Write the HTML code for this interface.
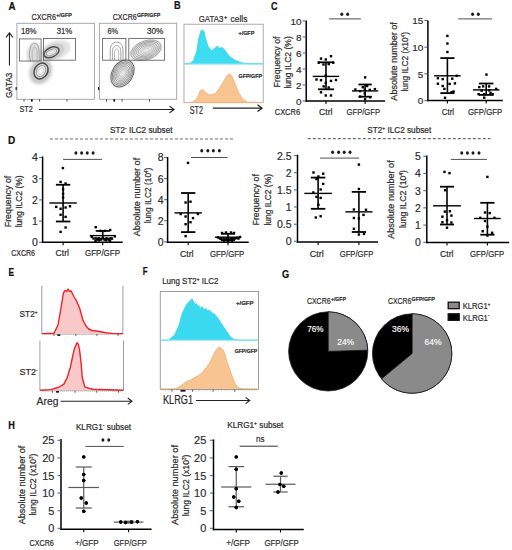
<!DOCTYPE html>
<html><head><meta charset="utf-8"><style>
html,body{margin:0;padding:0;background:#fff;}
svg{display:block;font-family:"Liberation Sans",sans-serif;}
text{stroke-width:0.22px;paint-order:stroke;}
</style></head><body>
<svg width="512" height="550" viewBox="0 0 512 550">
<rect width="512" height="550" fill="#fff"/>
<text x="8.50" y="9.70" font-size="10.70" text-anchor="start" font-weight="bold" fill="#111" stroke="#111" textLength="7.00" lengthAdjust="spacingAndGlyphs" >A</text>
<text x="173.90" y="9.40" font-size="10.70" text-anchor="start" font-weight="bold" fill="#111" stroke="#111" textLength="6.60" lengthAdjust="spacingAndGlyphs" >B</text>
<text x="271.00" y="9.60" font-size="10.70" text-anchor="start" font-weight="bold" fill="#111" stroke="#111" textLength="6.50" lengthAdjust="spacingAndGlyphs" >C</text>
<text x="8.10" y="144.10" font-size="10.70" text-anchor="start" font-weight="bold" fill="#111" stroke="#111" textLength="7.20" lengthAdjust="spacingAndGlyphs" >D</text>
<text x="8.40" y="276.40" font-size="10.70" text-anchor="start" font-weight="bold" fill="#111" stroke="#111" textLength="5.60" lengthAdjust="spacingAndGlyphs" >E</text>
<text x="142.80" y="274.80" font-size="10.17" text-anchor="start" font-weight="bold" fill="#111" stroke="#111" textLength="4.80" lengthAdjust="spacingAndGlyphs" >F</text>
<text x="282.00" y="278.00" font-size="11.24" text-anchor="start" font-weight="bold" fill="#111" stroke="#111" textLength="7.20" lengthAdjust="spacingAndGlyphs" >G</text>
<text x="8.20" y="429.00" font-size="10.70" text-anchor="start" font-weight="bold" fill="#111" stroke="#111" textLength="6.60" lengthAdjust="spacingAndGlyphs" >H</text>
<text x="31.50" y="20.20" font-size="9.42" text-anchor="start" font-weight="normal" fill="#2e2e2e" stroke="#2e2e2e" textLength="24.40" lengthAdjust="spacingAndGlyphs" >CXCR6</text>
<text x="56.20" y="16.60" font-size="5.89" text-anchor="start" font-weight="bold" fill="#2e2e2e" stroke="#2e2e2e" textLength="15.50" lengthAdjust="spacingAndGlyphs" >+/GFP</text>
<text x="112.70" y="19.90" font-size="9.42" text-anchor="start" font-weight="normal" fill="#2e2e2e" stroke="#2e2e2e" textLength="24.00" lengthAdjust="spacingAndGlyphs" >CXCR6</text>
<text x="137.00" y="16.50" font-size="5.89" text-anchor="start" font-weight="bold" fill="#2e2e2e" stroke="#2e2e2e" textLength="23.20" lengthAdjust="spacingAndGlyphs" >GFP/GFP</text>
<rect x="16.90" y="23.30" width="77.50" height="76.00" fill="none" stroke="#a0a0a0" stroke-width="0.9" />
<line x1="24.00" y1="99.30" x2="24.00" y2="101.50" stroke="#333" stroke-width="0.9" />
<line x1="31.80" y1="99.30" x2="31.80" y2="101.50" stroke="#333" stroke-width="0.9" />
<line x1="39.60" y1="99.30" x2="39.60" y2="101.50" stroke="#333" stroke-width="0.9" />
<line x1="67.00" y1="99.30" x2="67.00" y2="101.50" stroke="#333" stroke-width="0.9" />
<line x1="31.80" y1="99.30" x2="31.80" y2="101.50" stroke="#111" stroke-width="1.6" />
<rect x="15.50" y="87.10" width="1.30" height="3.00" fill="#222" stroke="none" stroke-width="1" />
<rect x="99.40" y="23.30" width="77.30" height="76.00" fill="none" stroke="#a0a0a0" stroke-width="0.9" />
<line x1="106.50" y1="99.30" x2="106.50" y2="101.50" stroke="#333" stroke-width="0.9" />
<line x1="114.30" y1="99.30" x2="114.30" y2="101.50" stroke="#333" stroke-width="0.9" />
<line x1="122.10" y1="99.30" x2="122.10" y2="101.50" stroke="#333" stroke-width="0.9" />
<line x1="149.50" y1="99.30" x2="149.50" y2="101.50" stroke="#333" stroke-width="0.9" />
<line x1="114.30" y1="99.30" x2="114.30" y2="101.50" stroke="#111" stroke-width="1.6" />
<rect x="98.00" y="87.10" width="1.30" height="3.00" fill="#222" stroke="none" stroke-width="1" />
<defs><filter id="bl" x="-20%" y="-20%" width="140%" height="140%"><feGaussianBlur stdDeviation="0.45"/></filter><filter id="bl2" x="-20%" y="-20%" width="140%" height="140%"><feGaussianBlur stdDeviation="0.9"/></filter></defs>
<g filter="url(#bl2)">
<ellipse cx="0" cy="0" rx="14" ry="11.6" fill="#dedede" transform="translate(40.6,71.6) rotate(-60)"/>
<ellipse cx="0" cy="0" rx="11.5" ry="9.6" fill="#c8c8c8" transform="translate(40.8,71.5) rotate(-60)"/>
<ellipse cx="0" cy="0" rx="15.5" ry="9.5" fill="#e2e2e2" transform="translate(55.5,50.5) rotate(-22)"/>
<ellipse cx="0" cy="0" rx="11.5" ry="7" fill="#cfcfcf" transform="translate(53,51.5) rotate(-24)"/>
<path d="M28,62 C25.5,55 27,47 31.5,43 C36,40.5 40.5,43 40.5,50 L40.5,62 Z" fill="#dadada"/>
</g>
<g filter="url(#bl)">
<ellipse cx="0" cy="0" rx="11" ry="9" fill="none" stroke="#c8c8c8" stroke-width="1.2" transform="translate(40.8,71.3) rotate(-60)"/>
<ellipse cx="0" cy="0" rx="8.3" ry="6.6" fill="#d6d6d6" stroke="#4a4a4a" stroke-width="1.5" transform="translate(41,71) rotate(-60)"/>
<ellipse cx="0" cy="0" rx="5.8" ry="4.4" fill="#ececec" stroke="#9a9a9a" stroke-width="0.9" transform="translate(41,71) rotate(-60)"/>
<ellipse cx="0" cy="0" rx="3.4" ry="2.4" fill="#f6f6f6" stroke="#c4c4c4" stroke-width="0.7" transform="translate(41,71) rotate(-60)"/>
<ellipse cx="0" cy="0" rx="11" ry="6.5" fill="none" stroke="#cdcdcd" stroke-width="1.1" transform="translate(53,51.5) rotate(-24)"/>
<ellipse cx="0" cy="0" rx="8" ry="4.7" fill="#d4d4d4" stroke="#4e4e4e" stroke-width="1.5" transform="translate(51.5,52.3) rotate(-25)"/>
<ellipse cx="0" cy="0" rx="5.4" ry="2.8" fill="#eaeaea" stroke="#9c9c9c" stroke-width="0.9" transform="translate(51.5,52.3) rotate(-25)"/>
<ellipse cx="0" cy="0" rx="2.8" ry="1.3" fill="#f6f6f6" stroke="#c8c8c8" stroke-width="0.6" transform="translate(51.5,52.3) rotate(-25)"/>
<path d="M30.5,61 C28.5,54 29.5,47 32.5,44 C35.5,42 38.5,44 39,50 L39.5,61" fill="none" stroke="#a0a0a0" stroke-width="0.9"/>
<path d="M33,61 C31.5,55 32,50 34,47.5 C36,46.5 37,49 37.2,53 L37.2,61" fill="none" stroke="#b0b0b0" stroke-width="0.8"/>
</g>
<rect x="19.40" y="38.90" width="21.70" height="22.10" fill="none" stroke="#5e5e5e" stroke-width="0.85" />
<rect x="43.50" y="38.40" width="32.00" height="21.80" fill="none" stroke="#5e5e5e" stroke-width="0.85" />
<text x="20.90" y="34.00" font-size="9.20" text-anchor="start" font-weight="normal" fill="#2e2e2e" stroke="#2e2e2e" textLength="15.70" lengthAdjust="spacingAndGlyphs" >18%</text>
<text x="56.70" y="34.00" font-size="9.20" text-anchor="start" font-weight="normal" fill="#2e2e2e" stroke="#2e2e2e" textLength="15.50" lengthAdjust="spacingAndGlyphs" >31%</text>
<g filter="url(#bl2)">
<ellipse cx="0" cy="0" rx="15.5" ry="11" fill="#e4e4e4" transform="translate(122.5,73.5) rotate(-58)"/>
<ellipse cx="0" cy="0" rx="17" ry="10" fill="#e8e8e8" transform="translate(146,50.3) rotate(-20)"/>
</g>
<g filter="url(#bl)">
<ellipse cx="0" cy="0" rx="14.4" ry="10.4" fill="none" stroke="#6a6a6a" stroke-width="1.0" transform="translate(122.5,73.5) rotate(-58)"/>
<ellipse cx="0" cy="0" rx="12.8" ry="9.2" fill="none" stroke="#7a7a7a" stroke-width="0.8" transform="translate(122.5,73.5) rotate(-58)"/>
<ellipse cx="0" cy="0" rx="11.2" ry="8.0" fill="none" stroke="#858585" stroke-width="0.7" transform="translate(122.5,73.5) rotate(-58)"/>
<ellipse cx="0" cy="0" rx="9.5" ry="6.8" fill="none" stroke="#8f8f8f" stroke-width="0.7" transform="translate(122.5,73.5) rotate(-58)"/>
<ellipse cx="0" cy="0" rx="7.8" ry="5.5" fill="none" stroke="#9a9a9a" stroke-width="0.7" transform="translate(122.5,73.5) rotate(-58)"/>
<ellipse cx="0" cy="0" rx="6.0" ry="4.2" fill="none" stroke="#a8a8a8" stroke-width="0.7" transform="translate(122.5,73.5) rotate(-58)"/>
<ellipse cx="0" cy="0" rx="4.0" ry="2.8" fill="none" stroke="#b8b8b8" stroke-width="0.6" transform="translate(122.5,73.5) rotate(-58)"/>
<ellipse cx="0" cy="0" rx="15.8" ry="9.4" fill="none" stroke="#9a9a9a" stroke-width="0.8" transform="translate(146,50.3) rotate(-20)"/>
<ellipse cx="0" cy="0" rx="13.8" ry="8.2" fill="none" stroke="#8c8c8c" stroke-width="0.7" transform="translate(146,50.3) rotate(-20)"/>
<ellipse cx="0" cy="0" rx="11.8" ry="7.0" fill="none" stroke="#939393" stroke-width="0.7" transform="translate(146,50.3) rotate(-20)"/>
<ellipse cx="0" cy="0" rx="9.8" ry="5.8" fill="none" stroke="#9a9a9a" stroke-width="0.7" transform="translate(146,50.3) rotate(-20)"/>
<ellipse cx="0" cy="0" rx="7.8" ry="4.6" fill="none" stroke="#a4a4a4" stroke-width="0.7" transform="translate(146,50.3) rotate(-20)"/>
<ellipse cx="0" cy="0" rx="5.6" ry="3.3" fill="none" stroke="#b0b0b0" stroke-width="0.6" transform="translate(146,50.3) rotate(-20)"/>
<ellipse cx="0" cy="0" rx="3.4" ry="2.0" fill="none" stroke="#c4c4c4" stroke-width="0.6" transform="translate(146,50.3) rotate(-20)"/>
<path d="M110.2,59.8 L110.2,51 C110.2,44.5 113,42.2 116.6,42.2 C120.2,42.2 123,44.5 123,51 L123,59.8" fill="none" stroke="#8a8a8a" stroke-width="0.8"/>
<path d="M112.4,59.8 L112.4,52 C112.4,47.5 114.3,45.6 116.6,45.6 C118.9,45.6 120.8,47.5 120.8,52 L120.8,59.8" fill="none" stroke="#8e8e8e" stroke-width="0.8"/>
<path d="M114.5,59.8 L114.5,53 C114.5,50 115.5,48.8 116.6,48.8 C117.7,48.8 118.7,50 118.7,53 L118.7,59.8" fill="none" stroke="#9a9a9a" stroke-width="0.7"/>
</g>
<rect x="102.60" y="38.40" width="23.30" height="21.80" fill="none" stroke="#5e5e5e" stroke-width="0.85" />
<rect x="128.80" y="38.40" width="35.80" height="21.80" fill="none" stroke="#5e5e5e" stroke-width="0.85" />
<text x="107.50" y="34.00" font-size="9.20" text-anchor="start" font-weight="normal" fill="#2e2e2e" stroke="#2e2e2e" textLength="10.60" lengthAdjust="spacingAndGlyphs" >6%</text>
<text x="146.90" y="34.00" font-size="9.20" text-anchor="start" font-weight="normal" fill="#2e2e2e" stroke="#2e2e2e" textLength="16.40" lengthAdjust="spacingAndGlyphs" >30%</text>
<line x1="9.45" y1="65.50" x2="9.45" y2="32.80" stroke="#222" stroke-width="1.1" />
<polyline points="6.00,37.40 9.45,32.80 12.90,37.40" fill="none" stroke="#222" stroke-width="1.1"/>
<text transform="translate(12.00,85.30) rotate(-90)" x="0" y="0" font-size="9.42" text-anchor="middle" fill="#2e2e2e" stroke="#2e2e2e" textLength="25.30" lengthAdjust="spacingAndGlyphs">GATA3</text>
<text x="19.50" y="111.80" font-size="9.63" text-anchor="start" font-weight="normal" fill="#2e2e2e" stroke="#2e2e2e" textLength="13.30" lengthAdjust="spacingAndGlyphs" >ST2</text>
<line x1="39.00" y1="109.50" x2="174.00" y2="109.50" stroke="#222" stroke-width="1.2" />
<polyline points="169.50,106.12 174.00,109.50 169.50,112.88" fill="none" stroke="#222" stroke-width="1.2"/>
<text x="198.70" y="21.60" font-size="9.84" text-anchor="start" font-weight="normal" fill="#2e2e2e" stroke="#2e2e2e" textLength="24.70" lengthAdjust="spacingAndGlyphs" >GATA3</text>
<text x="224.00" y="18.60" font-size="5.89" text-anchor="start" font-weight="bold" fill="#2e2e2e" stroke="#2e2e2e" textLength="3.20" lengthAdjust="spacingAndGlyphs" >+</text>
<text x="230.50" y="21.60" font-size="9.84" text-anchor="start" font-weight="normal" fill="#2e2e2e" stroke="#2e2e2e" textLength="16.90" lengthAdjust="spacingAndGlyphs" >cells</text>
<rect x="184.00" y="24.20" width="79.20" height="78.50" fill="none" stroke="#9a9a9a" stroke-width="0.8" />
<path d="M184.50,63.80 L190.00,63.60 L193.50,60.60 L196.80,51.50 L198.40,40.00 L200.90,31.00 L202.50,29.90 L204.10,31.80 L205.80,40.00 L208.25,46.60 L211.50,50.70 L214.80,48.25 L217.30,46.30 L219.70,48.25 L222.20,47.40 L224.70,49.90 L226.30,52.35 L229.60,56.50 L234.50,60.10 L241.10,62.70 L247.60,63.60 L262.80,63.80 Z" fill="#3ddcf0" stroke="#2fd2ea" stroke-width="0.8"/>
<line x1="184.40" y1="63.90" x2="262.80" y2="63.90" stroke="#7fe6f3" stroke-width="1.0" />
<path d="M184.50,102.50 L191.80,102.30 L196.80,99.10 L200.00,90.90 L202.50,89.60 L205.80,92.50 L209.10,95.00 L212.35,94.20 L215.60,93.40 L219.70,87.60 L223.80,81.10 L227.10,75.30 L229.60,73.70 L232.00,76.10 L235.30,84.30 L238.60,92.50 L242.70,99.10 L247.60,102.10 L262.80,102.50 Z" fill="#f8c592" stroke="#f0b27a" stroke-width="0.8"/>
<text x="238.60" y="35.10" font-size="5.14" text-anchor="start" font-weight="bold" fill="#333" stroke="#333" textLength="15.60" lengthAdjust="spacingAndGlyphs" >+/GFP</text>
<text x="238.60" y="77.80" font-size="5.14" text-anchor="start" font-weight="bold" fill="#333" stroke="#333" textLength="23.40" lengthAdjust="spacingAndGlyphs" >GFP/GFP</text>
<text x="189.80" y="113.50" font-size="10.17" text-anchor="start" font-weight="normal" fill="#2e2e2e" stroke="#2e2e2e" textLength="13.20" lengthAdjust="spacingAndGlyphs" >ST2</text>
<line x1="212.80" y1="108.20" x2="262.00" y2="108.20" stroke="#222" stroke-width="1.3" />
<polyline points="257.50,104.83 262.00,108.20 257.50,111.58" fill="none" stroke="#222" stroke-width="1.3"/>
<line x1="306.20" y1="20.60" x2="306.20" y2="101.75" stroke="#000" stroke-width="1.5" />
<line x1="305.45" y1="101.00" x2="385.00" y2="101.00" stroke="#000" stroke-width="1.5" />
<line x1="302.70" y1="101.00" x2="305.70" y2="101.00" stroke="#3f6fae" stroke-width="1.1" />
<text x="301.60" y="104.78" font-size="9.95" text-anchor="end" font-weight="normal" fill="#2e2e2e" stroke="#2e2e2e" style="stroke-width:0.2px">0</text>
<line x1="302.70" y1="85.00" x2="305.70" y2="85.00" stroke="#3f6fae" stroke-width="1.1" />
<text x="301.60" y="88.78" font-size="9.95" text-anchor="end" font-weight="normal" fill="#2e2e2e" stroke="#2e2e2e" style="stroke-width:0.2px">2</text>
<line x1="302.70" y1="69.00" x2="305.70" y2="69.00" stroke="#3f6fae" stroke-width="1.1" />
<text x="301.60" y="72.78" font-size="9.95" text-anchor="end" font-weight="normal" fill="#2e2e2e" stroke="#2e2e2e" style="stroke-width:0.2px">4</text>
<line x1="302.70" y1="53.00" x2="305.70" y2="53.00" stroke="#3f6fae" stroke-width="1.1" />
<text x="301.60" y="56.78" font-size="9.95" text-anchor="end" font-weight="normal" fill="#2e2e2e" stroke="#2e2e2e" style="stroke-width:0.2px">6</text>
<line x1="302.70" y1="37.00" x2="305.70" y2="37.00" stroke="#3f6fae" stroke-width="1.1" />
<text x="301.60" y="40.78" font-size="9.95" text-anchor="end" font-weight="normal" fill="#2e2e2e" stroke="#2e2e2e" style="stroke-width:0.2px">8</text>
<line x1="302.70" y1="21.00" x2="305.70" y2="21.00" stroke="#3f6fae" stroke-width="1.1" />
<text x="301.60" y="24.78" font-size="9.95" text-anchor="end" font-weight="normal" fill="#2e2e2e" stroke="#2e2e2e" style="stroke-width:0.2px">10</text>
<line x1="326.00" y1="101.00" x2="326.00" y2="104.00" stroke="#000" stroke-width="1.1" />
<line x1="365.10" y1="101.00" x2="365.10" y2="104.00" stroke="#000" stroke-width="1.1" />
<line x1="326.00" y1="62.30" x2="326.00" y2="89.30" stroke="#000" stroke-width="1.6" />
<line x1="312.75" y1="76.40" x2="339.25" y2="76.40" stroke="#000" stroke-width="1.4" />
<line x1="318.00" y1="62.30" x2="334.00" y2="62.30" stroke="#000" stroke-width="1.8" />
<line x1="318.00" y1="89.30" x2="334.00" y2="89.30" stroke="#000" stroke-width="1.8" />
<rect x="319.80" y="57.40" width="2.4" height="2.4" fill="#000"/>
<rect x="324.60" y="58.30" width="2.4" height="2.4" fill="#000"/>
<rect x="329.80" y="55.00" width="2.4" height="2.4" fill="#000"/>
<rect x="317.50" y="61.50" width="2.4" height="2.4" fill="#000"/>
<rect x="332.10" y="61.50" width="2.4" height="2.4" fill="#000"/>
<rect x="322.30" y="63.30" width="2.4" height="2.4" fill="#000"/>
<rect x="327.50" y="62.90" width="2.4" height="2.4" fill="#000"/>
<rect x="324.60" y="74.10" width="2.4" height="2.4" fill="#000"/>
<rect x="315.30" y="78.30" width="2.4" height="2.4" fill="#000"/>
<rect x="319.80" y="79.00" width="2.4" height="2.4" fill="#000"/>
<rect x="329.80" y="79.70" width="2.4" height="2.4" fill="#000"/>
<rect x="334.80" y="78.80" width="2.4" height="2.4" fill="#000"/>
<rect x="324.60" y="81.70" width="2.4" height="2.4" fill="#000"/>
<rect x="322.50" y="85.20" width="2.4" height="2.4" fill="#000"/>
<rect x="327.50" y="86.30" width="2.4" height="2.4" fill="#000"/>
<rect x="319.80" y="91.10" width="2.4" height="2.4" fill="#000"/>
<rect x="324.60" y="94.30" width="2.4" height="2.4" fill="#000"/>
<rect x="329.80" y="94.30" width="2.4" height="2.4" fill="#000"/>
<line x1="365.10" y1="84.50" x2="365.10" y2="96.70" stroke="#000" stroke-width="1.6" />
<line x1="352.00" y1="90.90" x2="378.20" y2="90.90" stroke="#000" stroke-width="1.4" />
<line x1="358.45" y1="84.50" x2="371.75" y2="84.50" stroke="#000" stroke-width="1.8" />
<line x1="358.45" y1="96.70" x2="371.75" y2="96.70" stroke="#000" stroke-width="1.8" />
<rect x="363.90" y="76.20" width="2.4" height="2.4" fill="#000"/>
<rect x="361.60" y="86.00" width="2.4" height="2.4" fill="#000"/>
<rect x="365.90" y="84.80" width="2.4" height="2.4" fill="#000"/>
<rect x="354.20" y="88.30" width="2.4" height="2.4" fill="#000"/>
<rect x="358.90" y="89.90" width="2.4" height="2.4" fill="#000"/>
<rect x="363.55" y="88.30" width="2.4" height="2.4" fill="#000"/>
<rect x="368.60" y="88.70" width="2.4" height="2.4" fill="#000"/>
<rect x="373.70" y="87.90" width="2.4" height="2.4" fill="#000"/>
<rect x="363.55" y="92.20" width="2.4" height="2.4" fill="#000"/>
<rect x="358.90" y="95.40" width="2.4" height="2.4" fill="#000"/>
<rect x="369.00" y="96.10" width="2.4" height="2.4" fill="#000"/>
<rect x="363.90" y="98.10" width="2.4" height="2.4" fill="#000"/>
<line x1="328.90" y1="18.90" x2="360.90" y2="18.90" stroke="#505050" stroke-width="1.0" />
<ellipse cx="341.80" cy="14.20" rx="1.5" ry="1.75" fill="#1a1a1a"/>
<ellipse cx="347.65" cy="14.20" rx="1.5" ry="1.75" fill="#1a1a1a"/>
<text x="274.75" y="115.20" font-size="9.63" text-anchor="start" font-weight="normal" fill="#2e2e2e" stroke="#2e2e2e" textLength="25.30" lengthAdjust="spacingAndGlyphs" >CXCR6</text>
<text x="319.00" y="115.20" font-size="9.63" text-anchor="start" font-weight="normal" fill="#2e2e2e" stroke="#2e2e2e" textLength="13.50" lengthAdjust="spacingAndGlyphs" >Ctrl</text>
<text x="346.60" y="115.20" font-size="9.63" text-anchor="start" font-weight="normal" fill="#2e2e2e" stroke="#2e2e2e" textLength="33.40" lengthAdjust="spacingAndGlyphs" >GFP/GFP</text>
<text transform="translate(279.60,62.00) rotate(-90)" x="0" y="0" font-size="9.63" text-anchor="middle" fill="#2e2e2e" stroke="#2e2e2e" textLength="50.80" lengthAdjust="spacingAndGlyphs">Frequency of</text>
<text transform="translate(291.20,62.40) rotate(-90)" x="0" y="0" font-size="9.63" text-anchor="middle" fill="#2e2e2e" stroke="#2e2e2e" textLength="52.30" lengthAdjust="spacingAndGlyphs">lung ILC2 (%)</text>
<line x1="427.90" y1="20.60" x2="427.90" y2="101.35" stroke="#000" stroke-width="1.5" />
<line x1="427.15" y1="100.60" x2="502.80" y2="100.60" stroke="#000" stroke-width="1.5" />
<line x1="424.40" y1="100.60" x2="427.40" y2="100.60" stroke="#3f6fae" stroke-width="1.1" />
<text x="423.30" y="104.38" font-size="9.95" text-anchor="end" font-weight="normal" fill="#2e2e2e" stroke="#2e2e2e" style="stroke-width:0.2px">0</text>
<line x1="424.40" y1="73.90" x2="427.40" y2="73.90" stroke="#3f6fae" stroke-width="1.1" />
<text x="423.30" y="77.68" font-size="9.95" text-anchor="end" font-weight="normal" fill="#2e2e2e" stroke="#2e2e2e" style="stroke-width:0.2px">5</text>
<line x1="424.40" y1="47.20" x2="427.40" y2="47.20" stroke="#3f6fae" stroke-width="1.1" />
<text x="423.30" y="50.98" font-size="9.95" text-anchor="end" font-weight="normal" fill="#2e2e2e" stroke="#2e2e2e" style="stroke-width:0.2px">10</text>
<line x1="424.40" y1="20.50" x2="427.40" y2="20.50" stroke="#3f6fae" stroke-width="1.1" />
<text x="423.30" y="24.28" font-size="9.95" text-anchor="end" font-weight="normal" fill="#2e2e2e" stroke="#2e2e2e" style="stroke-width:0.2px">15</text>
<line x1="447.40" y1="100.60" x2="447.40" y2="103.60" stroke="#000" stroke-width="1.1" />
<line x1="486.20" y1="100.60" x2="486.20" y2="103.60" stroke="#000" stroke-width="1.1" />
<line x1="447.40" y1="58.10" x2="447.40" y2="93.10" stroke="#000" stroke-width="1.6" />
<line x1="434.15" y1="75.80" x2="460.65" y2="75.80" stroke="#000" stroke-width="1.4" />
<line x1="440.35" y1="58.10" x2="454.45" y2="58.10" stroke="#000" stroke-width="1.8" />
<line x1="440.35" y1="93.10" x2="454.45" y2="93.10" stroke="#000" stroke-width="1.8" />
<rect x="446.20" y="34.70" width="2.4" height="2.4" fill="#000"/>
<rect x="446.20" y="42.30" width="2.4" height="2.4" fill="#000"/>
<rect x="446.20" y="50.80" width="2.4" height="2.4" fill="#000"/>
<rect x="436.70" y="77.00" width="2.4" height="2.4" fill="#000"/>
<rect x="441.50" y="77.90" width="2.4" height="2.4" fill="#000"/>
<rect x="451.05" y="77.50" width="2.4" height="2.4" fill="#000"/>
<rect x="455.60" y="74.60" width="2.4" height="2.4" fill="#000"/>
<rect x="436.70" y="82.50" width="2.4" height="2.4" fill="#000"/>
<rect x="441.50" y="84.80" width="2.4" height="2.4" fill="#000"/>
<rect x="448.40" y="82.70" width="2.4" height="2.4" fill="#000"/>
<rect x="453.70" y="82.20" width="2.4" height="2.4" fill="#000"/>
<rect x="443.20" y="87.70" width="2.4" height="2.4" fill="#000"/>
<rect x="450.40" y="91.00" width="2.4" height="2.4" fill="#000"/>
<rect x="452.40" y="90.30" width="2.4" height="2.4" fill="#000"/>
<rect x="443.80" y="96.60" width="2.4" height="2.4" fill="#000"/>
<line x1="486.20" y1="83.50" x2="486.20" y2="94.90" stroke="#000" stroke-width="1.6" />
<line x1="472.90" y1="89.90" x2="499.50" y2="89.90" stroke="#000" stroke-width="1.4" />
<line x1="478.95" y1="83.50" x2="493.45" y2="83.50" stroke="#000" stroke-width="1.8" />
<line x1="478.95" y1="94.90" x2="493.45" y2="94.90" stroke="#000" stroke-width="1.8" />
<rect x="485.25" y="73.40" width="2.4" height="2.4" fill="#000"/>
<rect x="478.10" y="85.90" width="2.4" height="2.4" fill="#000"/>
<rect x="481.90" y="85.20" width="2.4" height="2.4" fill="#000"/>
<rect x="487.90" y="85.20" width="2.4" height="2.4" fill="#000"/>
<rect x="495.00" y="87.70" width="2.4" height="2.4" fill="#000"/>
<rect x="477.40" y="93.00" width="2.4" height="2.4" fill="#000"/>
<rect x="483.00" y="93.00" width="2.4" height="2.4" fill="#000"/>
<rect x="489.30" y="91.60" width="2.4" height="2.4" fill="#000"/>
<rect x="491.40" y="93.00" width="2.4" height="2.4" fill="#000"/>
<rect x="483.00" y="96.50" width="2.4" height="2.4" fill="#000"/>
<rect x="480.50" y="89.40" width="2.4" height="2.4" fill="#000"/>
<rect x="487.90" y="89.10" width="2.4" height="2.4" fill="#000"/>
<line x1="458.10" y1="18.90" x2="492.10" y2="18.90" stroke="#505050" stroke-width="1.0" />
<ellipse cx="472.60" cy="14.20" rx="1.5" ry="1.75" fill="#1a1a1a"/>
<ellipse cx="478.30" cy="14.20" rx="1.5" ry="1.75" fill="#1a1a1a"/>
<text x="441.80" y="115.20" font-size="9.63" text-anchor="start" font-weight="normal" fill="#2e2e2e" stroke="#2e2e2e" textLength="12.20" lengthAdjust="spacingAndGlyphs" >Ctrl</text>
<text x="468.00" y="115.20" font-size="9.63" text-anchor="start" font-weight="normal" fill="#2e2e2e" stroke="#2e2e2e" textLength="34.20" lengthAdjust="spacingAndGlyphs" >GFP/GFP</text>
<text transform="translate(397.10,61.40) rotate(-90)" x="0" y="0" font-size="9.63" text-anchor="middle" fill="#2e2e2e" stroke="#2e2e2e" textLength="78.50" lengthAdjust="spacingAndGlyphs">Absolute number of</text>
<text transform="translate(407.80,61.80) rotate(-90)" x="0" y="0" font-size="9.63" text-anchor="middle" fill="#2e2e2e" stroke="#2e2e2e" textLength="59.50" lengthAdjust="spacingAndGlyphs">lung ILC2 (x10<tspan font-size="5" dy="-3">4</tspan><tspan dy="3">)</tspan></text>
<line x1="42.60" y1="156.50" x2="42.60" y2="243.05" stroke="#000" stroke-width="1.5" />
<line x1="41.85" y1="242.30" x2="122.70" y2="242.30" stroke="#000" stroke-width="1.5" />
<line x1="39.10" y1="242.30" x2="42.10" y2="242.30" stroke="#3f6fae" stroke-width="1.1" />
<text x="37.80" y="246.28" font-size="10.49" text-anchor="end" font-weight="normal" fill="#2e2e2e" stroke="#2e2e2e" style="stroke-width:0.2px">0</text>
<line x1="39.10" y1="221.10" x2="42.10" y2="221.10" stroke="#3f6fae" stroke-width="1.1" />
<text x="37.80" y="225.08" font-size="10.49" text-anchor="end" font-weight="normal" fill="#2e2e2e" stroke="#2e2e2e" style="stroke-width:0.2px">1</text>
<line x1="39.10" y1="199.90" x2="42.10" y2="199.90" stroke="#3f6fae" stroke-width="1.1" />
<text x="37.80" y="203.88" font-size="10.49" text-anchor="end" font-weight="normal" fill="#2e2e2e" stroke="#2e2e2e" style="stroke-width:0.2px">2</text>
<line x1="39.10" y1="178.70" x2="42.10" y2="178.70" stroke="#3f6fae" stroke-width="1.1" />
<text x="37.80" y="182.68" font-size="10.49" text-anchor="end" font-weight="normal" fill="#2e2e2e" stroke="#2e2e2e" style="stroke-width:0.2px">3</text>
<line x1="39.10" y1="157.50" x2="42.10" y2="157.50" stroke="#3f6fae" stroke-width="1.1" />
<text x="37.80" y="161.48" font-size="10.49" text-anchor="end" font-weight="normal" fill="#2e2e2e" stroke="#2e2e2e" style="stroke-width:0.2px">4</text>
<line x1="63.10" y1="242.30" x2="63.10" y2="245.30" stroke="#000" stroke-width="1.1" />
<line x1="102.75" y1="242.30" x2="102.75" y2="245.30" stroke="#000" stroke-width="1.1" />
<line x1="63.10" y1="184.75" x2="63.10" y2="221.50" stroke="#000" stroke-width="1.6" />
<line x1="49.35" y1="203.00" x2="76.85" y2="203.00" stroke="#000" stroke-width="1.4" />
<line x1="55.90" y1="184.75" x2="70.30" y2="184.75" stroke="#000" stroke-width="1.8" />
<line x1="55.90" y1="221.50" x2="70.30" y2="221.50" stroke="#000" stroke-width="1.8" />
<rect x="61.70" y="166.90" width="2.4" height="2.4" fill="#000"/>
<rect x="59.40" y="180.70" width="2.4" height="2.4" fill="#000"/>
<rect x="64.40" y="182.30" width="2.4" height="2.4" fill="#000"/>
<rect x="61.90" y="188.20" width="2.4" height="2.4" fill="#000"/>
<rect x="61.90" y="192.55" width="2.4" height="2.4" fill="#000"/>
<rect x="61.90" y="196.30" width="2.4" height="2.4" fill="#000"/>
<rect x="55.05" y="205.70" width="2.4" height="2.4" fill="#000"/>
<rect x="59.40" y="207.55" width="2.4" height="2.4" fill="#000"/>
<rect x="64.40" y="206.30" width="2.4" height="2.4" fill="#000"/>
<rect x="68.80" y="205.05" width="2.4" height="2.4" fill="#000"/>
<rect x="59.40" y="213.55" width="2.4" height="2.4" fill="#000"/>
<rect x="64.40" y="215.70" width="2.4" height="2.4" fill="#000"/>
<rect x="64.40" y="226.30" width="2.4" height="2.4" fill="#000"/>
<rect x="59.40" y="230.70" width="2.4" height="2.4" fill="#000"/>
<line x1="102.75" y1="230.90" x2="102.75" y2="238.60" stroke="#000" stroke-width="1.6" />
<line x1="89.70" y1="235.60" x2="115.80" y2="235.60" stroke="#000" stroke-width="1.4" />
<line x1="95.70" y1="230.90" x2="109.80" y2="230.90" stroke="#000" stroke-width="1.8" />
<line x1="95.70" y1="238.60" x2="109.80" y2="238.60" stroke="#000" stroke-width="1.8" />
<rect x="94.50" y="226.00" width="2.4" height="2.4" fill="#000"/>
<rect x="99.20" y="229.70" width="2.4" height="2.4" fill="#000"/>
<rect x="103.90" y="229.70" width="2.4" height="2.4" fill="#000"/>
<rect x="109.00" y="228.80" width="2.4" height="2.4" fill="#000"/>
<rect x="90.60" y="235.60" width="2.4" height="2.4" fill="#000"/>
<rect x="94.50" y="237.20" width="2.4" height="2.4" fill="#000"/>
<rect x="97.60" y="237.20" width="2.4" height="2.4" fill="#000"/>
<rect x="101.55" y="236.80" width="2.4" height="2.4" fill="#000"/>
<rect x="105.50" y="237.20" width="2.4" height="2.4" fill="#000"/>
<rect x="109.40" y="237.20" width="2.4" height="2.4" fill="#000"/>
<rect x="113.70" y="235.20" width="2.4" height="2.4" fill="#000"/>
<rect x="97.80" y="239.10" width="2.4" height="2.4" fill="#000"/>
<rect x="104.80" y="239.10" width="2.4" height="2.4" fill="#000"/>
<rect x="92.30" y="237.30" width="2.4" height="2.4" fill="#000"/>
<rect x="96.30" y="238.40" width="2.4" height="2.4" fill="#000"/>
<rect x="99.80" y="238.40" width="2.4" height="2.4" fill="#000"/>
<rect x="103.30" y="238.40" width="2.4" height="2.4" fill="#000"/>
<rect x="107.30" y="238.40" width="2.4" height="2.4" fill="#000"/>
<rect x="110.80" y="237.40" width="2.4" height="2.4" fill="#000"/>
<rect x="94.30" y="239.60" width="2.4" height="2.4" fill="#000"/>
<rect x="108.80" y="239.60" width="2.4" height="2.4" fill="#000"/>
<line x1="63.10" y1="159.40" x2="102.00" y2="159.40" stroke="#505050" stroke-width="1.0" />
<ellipse cx="75.90" cy="152.90" rx="1.5" ry="1.75" fill="#1a1a1a"/>
<ellipse cx="81.60" cy="152.90" rx="1.5" ry="1.75" fill="#1a1a1a"/>
<ellipse cx="87.25" cy="152.90" rx="1.5" ry="1.75" fill="#1a1a1a"/>
<ellipse cx="93.10" cy="152.90" rx="1.5" ry="1.75" fill="#1a1a1a"/>
<text x="11.20" y="256.40" font-size="9.63" text-anchor="start" font-weight="normal" fill="#2e2e2e" stroke="#2e2e2e" textLength="23.80" lengthAdjust="spacingAndGlyphs" >CXCR6</text>
<text x="55.60" y="256.40" font-size="9.63" text-anchor="start" font-weight="normal" fill="#2e2e2e" stroke="#2e2e2e" textLength="13.40" lengthAdjust="spacingAndGlyphs" >Ctrl</text>
<text x="85.00" y="256.40" font-size="9.63" text-anchor="start" font-weight="normal" fill="#2e2e2e" stroke="#2e2e2e" textLength="35.00" lengthAdjust="spacingAndGlyphs" >GFP/GFP</text>
<text transform="translate(10.80,201.50) rotate(-90)" x="0" y="0" font-size="9.63" text-anchor="middle" fill="#2e2e2e" stroke="#2e2e2e" textLength="51.50" lengthAdjust="spacingAndGlyphs">Frequency of</text>
<text transform="translate(22.30,201.30) rotate(-90)" x="0" y="0" font-size="9.63" text-anchor="middle" fill="#2e2e2e" stroke="#2e2e2e" textLength="52.00" lengthAdjust="spacingAndGlyphs">lung ILC2 (%)</text>
<line x1="167.60" y1="157.00" x2="167.60" y2="243.05" stroke="#000" stroke-width="1.5" />
<line x1="166.85" y1="242.30" x2="248.70" y2="242.30" stroke="#000" stroke-width="1.5" />
<line x1="164.10" y1="241.80" x2="167.10" y2="241.80" stroke="#3f6fae" stroke-width="1.1" />
<text x="163.60" y="245.78" font-size="10.49" text-anchor="end" font-weight="normal" fill="#2e2e2e" stroke="#2e2e2e" style="stroke-width:0.2px">0</text>
<line x1="164.10" y1="220.70" x2="167.10" y2="220.70" stroke="#3f6fae" stroke-width="1.1" />
<text x="163.60" y="224.68" font-size="10.49" text-anchor="end" font-weight="normal" fill="#2e2e2e" stroke="#2e2e2e" style="stroke-width:0.2px">2</text>
<line x1="164.10" y1="199.65" x2="167.10" y2="199.65" stroke="#3f6fae" stroke-width="1.1" />
<text x="163.60" y="203.63" font-size="10.49" text-anchor="end" font-weight="normal" fill="#2e2e2e" stroke="#2e2e2e" style="stroke-width:0.2px">4</text>
<line x1="164.10" y1="178.60" x2="167.10" y2="178.60" stroke="#3f6fae" stroke-width="1.1" />
<text x="163.60" y="182.58" font-size="10.49" text-anchor="end" font-weight="normal" fill="#2e2e2e" stroke="#2e2e2e" style="stroke-width:0.2px">6</text>
<line x1="164.10" y1="157.50" x2="167.10" y2="157.50" stroke="#3f6fae" stroke-width="1.1" />
<text x="163.60" y="161.48" font-size="10.49" text-anchor="end" font-weight="normal" fill="#2e2e2e" stroke="#2e2e2e" style="stroke-width:0.2px">8</text>
<line x1="188.20" y1="242.30" x2="188.20" y2="245.30" stroke="#000" stroke-width="1.1" />
<line x1="228.00" y1="242.30" x2="228.00" y2="245.30" stroke="#000" stroke-width="1.1" />
<line x1="188.20" y1="193.00" x2="188.20" y2="232.10" stroke="#000" stroke-width="1.6" />
<line x1="174.50" y1="212.90" x2="201.90" y2="212.90" stroke="#000" stroke-width="1.4" />
<line x1="181.05" y1="193.00" x2="195.35" y2="193.00" stroke="#000" stroke-width="1.8" />
<line x1="181.05" y1="232.10" x2="195.35" y2="232.10" stroke="#000" stroke-width="1.8" />
<rect x="186.80" y="161.70" width="2.4" height="2.4" fill="#000"/>
<rect x="184.40" y="201.30" width="2.4" height="2.4" fill="#000"/>
<rect x="189.30" y="200.50" width="2.4" height="2.4" fill="#000"/>
<rect x="179.50" y="212.80" width="2.4" height="2.4" fill="#000"/>
<rect x="184.40" y="215.30" width="2.4" height="2.4" fill="#000"/>
<rect x="191.80" y="216.90" width="2.4" height="2.4" fill="#000"/>
<rect x="196.70" y="212.80" width="2.4" height="2.4" fill="#000"/>
<rect x="189.30" y="221.00" width="2.4" height="2.4" fill="#000"/>
<rect x="184.40" y="223.00" width="2.4" height="2.4" fill="#000"/>
<rect x="184.40" y="234.90" width="2.4" height="2.4" fill="#000"/>
<line x1="228.00" y1="233.80" x2="228.00" y2="240.20" stroke="#000" stroke-width="1.6" />
<line x1="214.85" y1="237.20" x2="241.15" y2="237.20" stroke="#000" stroke-width="1.4" />
<line x1="221.10" y1="233.80" x2="234.90" y2="233.80" stroke="#000" stroke-width="1.8" />
<line x1="221.10" y1="240.20" x2="234.90" y2="240.20" stroke="#000" stroke-width="1.8" />
<rect x="220.80" y="231.80" width="2.4" height="2.4" fill="#000"/>
<rect x="224.80" y="231.30" width="2.4" height="2.4" fill="#000"/>
<rect x="229.80" y="231.30" width="2.4" height="2.4" fill="#000"/>
<rect x="232.80" y="231.80" width="2.4" height="2.4" fill="#000"/>
<rect x="216.80" y="236.30" width="2.4" height="2.4" fill="#000"/>
<rect x="219.80" y="237.80" width="2.4" height="2.4" fill="#000"/>
<rect x="223.80" y="238.30" width="2.4" height="2.4" fill="#000"/>
<rect x="227.80" y="238.30" width="2.4" height="2.4" fill="#000"/>
<rect x="231.80" y="237.80" width="2.4" height="2.4" fill="#000"/>
<rect x="235.80" y="236.80" width="2.4" height="2.4" fill="#000"/>
<rect x="238.80" y="235.80" width="2.4" height="2.4" fill="#000"/>
<rect x="226.80" y="239.80" width="2.4" height="2.4" fill="#000"/>
<rect x="218.80" y="237.30" width="2.4" height="2.4" fill="#000"/>
<rect x="222.30" y="237.30" width="2.4" height="2.4" fill="#000"/>
<rect x="225.80" y="237.30" width="2.4" height="2.4" fill="#000"/>
<rect x="229.80" y="237.30" width="2.4" height="2.4" fill="#000"/>
<rect x="233.80" y="237.30" width="2.4" height="2.4" fill="#000"/>
<rect x="237.30" y="237.30" width="2.4" height="2.4" fill="#000"/>
<rect x="222.80" y="239.40" width="2.4" height="2.4" fill="#000"/>
<rect x="230.80" y="239.40" width="2.4" height="2.4" fill="#000"/>
<line x1="191.00" y1="157.50" x2="227.50" y2="157.50" stroke="#505050" stroke-width="1.0" />
<ellipse cx="201.75" cy="150.85" rx="1.5" ry="1.75" fill="#1a1a1a"/>
<ellipse cx="207.80" cy="150.85" rx="1.5" ry="1.75" fill="#1a1a1a"/>
<ellipse cx="213.35" cy="150.85" rx="1.5" ry="1.75" fill="#1a1a1a"/>
<ellipse cx="219.40" cy="150.85" rx="1.5" ry="1.75" fill="#1a1a1a"/>
<text x="180.00" y="256.80" font-size="9.63" text-anchor="start" font-weight="normal" fill="#2e2e2e" stroke="#2e2e2e" textLength="13.50" lengthAdjust="spacingAndGlyphs" >Ctrl</text>
<text x="210.00" y="256.80" font-size="9.63" text-anchor="start" font-weight="normal" fill="#2e2e2e" stroke="#2e2e2e" textLength="34.20" lengthAdjust="spacingAndGlyphs" >GFP/GFP</text>
<text transform="translate(140.00,197.10) rotate(-90)" x="0" y="0" font-size="9.63" text-anchor="middle" fill="#2e2e2e" stroke="#2e2e2e" textLength="78.50" lengthAdjust="spacingAndGlyphs">Absolute number of</text>
<text transform="translate(150.50,195.40) rotate(-90)" x="0" y="0" font-size="9.63" text-anchor="middle" fill="#2e2e2e" stroke="#2e2e2e" textLength="55.50" lengthAdjust="spacingAndGlyphs">lung ILC2 (10<tspan font-size="5" dy="-3">4</tspan><tspan dy="3">)</tspan></text>
<line x1="297.50" y1="154.70" x2="297.50" y2="242.65" stroke="#000" stroke-width="1.5" />
<line x1="296.75" y1="241.90" x2="378.10" y2="241.90" stroke="#000" stroke-width="1.5" />
<line x1="294.00" y1="241.30" x2="297.00" y2="241.30" stroke="#3f6fae" stroke-width="1.1" />
<text x="291.50" y="245.28" font-size="10.49" text-anchor="end" font-weight="normal" fill="#2e2e2e" stroke="#2e2e2e" style="stroke-width:0.2px">0</text>
<line x1="294.00" y1="224.20" x2="297.00" y2="224.20" stroke="#3f6fae" stroke-width="1.1" />
<text x="291.50" y="228.18" font-size="10.49" text-anchor="end" font-weight="normal" fill="#2e2e2e" stroke="#2e2e2e" style="stroke-width:0.2px">0.5</text>
<line x1="294.00" y1="207.00" x2="297.00" y2="207.00" stroke="#3f6fae" stroke-width="1.1" />
<text x="291.50" y="210.98" font-size="10.49" text-anchor="end" font-weight="normal" fill="#2e2e2e" stroke="#2e2e2e" style="stroke-width:0.2px">1</text>
<line x1="294.00" y1="189.90" x2="297.00" y2="189.90" stroke="#3f6fae" stroke-width="1.1" />
<text x="291.50" y="193.88" font-size="10.49" text-anchor="end" font-weight="normal" fill="#2e2e2e" stroke="#2e2e2e" style="stroke-width:0.2px">1.5</text>
<line x1="294.00" y1="172.70" x2="297.00" y2="172.70" stroke="#3f6fae" stroke-width="1.1" />
<text x="291.50" y="176.68" font-size="10.49" text-anchor="end" font-weight="normal" fill="#2e2e2e" stroke="#2e2e2e" style="stroke-width:0.2px">2</text>
<line x1="294.00" y1="155.60" x2="297.00" y2="155.60" stroke="#3f6fae" stroke-width="1.1" />
<text x="291.50" y="159.58" font-size="10.49" text-anchor="end" font-weight="normal" fill="#2e2e2e" stroke="#2e2e2e" style="stroke-width:0.2px">2.5</text>
<line x1="318.10" y1="241.90" x2="318.10" y2="244.90" stroke="#000" stroke-width="1.1" />
<line x1="358.90" y1="241.90" x2="358.90" y2="244.90" stroke="#000" stroke-width="1.1" />
<line x1="318.10" y1="177.60" x2="318.10" y2="208.80" stroke="#000" stroke-width="1.6" />
<line x1="304.35" y1="193.40" x2="331.85" y2="193.40" stroke="#000" stroke-width="1.4" />
<line x1="310.85" y1="177.60" x2="325.35" y2="177.60" stroke="#000" stroke-width="1.8" />
<line x1="310.85" y1="208.80" x2="325.35" y2="208.80" stroke="#000" stroke-width="1.8" />
<rect x="312.30" y="171.30" width="2.4" height="2.4" fill="#000"/>
<rect x="322.00" y="172.50" width="2.4" height="2.4" fill="#000"/>
<rect x="315.30" y="177.90" width="2.4" height="2.4" fill="#000"/>
<rect x="317.20" y="175.30" width="2.4" height="2.4" fill="#000"/>
<rect x="322.00" y="182.70" width="2.4" height="2.4" fill="#000"/>
<rect x="319.45" y="188.30" width="2.4" height="2.4" fill="#000"/>
<rect x="312.10" y="191.30" width="2.4" height="2.4" fill="#000"/>
<rect x="315.30" y="195.70" width="2.4" height="2.4" fill="#000"/>
<rect x="319.45" y="196.70" width="2.4" height="2.4" fill="#000"/>
<rect x="317.20" y="203.60" width="2.4" height="2.4" fill="#000"/>
<rect x="314.60" y="216.30" width="2.4" height="2.4" fill="#000"/>
<rect x="319.45" y="215.05" width="2.4" height="2.4" fill="#000"/>
<line x1="358.90" y1="191.90" x2="358.90" y2="232.00" stroke="#000" stroke-width="1.6" />
<line x1="345.35" y1="211.85" x2="372.45" y2="211.85" stroke="#000" stroke-width="1.4" />
<line x1="351.75" y1="191.90" x2="366.05" y2="191.90" stroke="#000" stroke-width="1.8" />
<line x1="351.75" y1="232.00" x2="366.05" y2="232.00" stroke="#000" stroke-width="1.8" />
<rect x="357.70" y="163.40" width="2.4" height="2.4" fill="#000"/>
<rect x="357.70" y="187.80" width="2.4" height="2.4" fill="#000"/>
<rect x="352.70" y="208.30" width="2.4" height="2.4" fill="#000"/>
<rect x="364.80" y="208.60" width="2.4" height="2.4" fill="#000"/>
<rect x="362.30" y="213.70" width="2.4" height="2.4" fill="#000"/>
<rect x="352.70" y="216.80" width="2.4" height="2.4" fill="#000"/>
<rect x="357.70" y="217.20" width="2.4" height="2.4" fill="#000"/>
<rect x="352.70" y="227.60" width="2.4" height="2.4" fill="#000"/>
<rect x="357.70" y="233.30" width="2.4" height="2.4" fill="#000"/>
<rect x="362.80" y="232.70" width="2.4" height="2.4" fill="#000"/>
<line x1="320.10" y1="158.10" x2="359.10" y2="158.10" stroke="#505050" stroke-width="1.0" />
<ellipse cx="332.60" cy="152.30" rx="1.5" ry="1.75" fill="#1a1a1a"/>
<ellipse cx="338.60" cy="152.30" rx="1.5" ry="1.75" fill="#1a1a1a"/>
<ellipse cx="344.20" cy="152.30" rx="1.5" ry="1.75" fill="#1a1a1a"/>
<ellipse cx="350.00" cy="152.30" rx="1.5" ry="1.75" fill="#1a1a1a"/>
<text x="309.70" y="256.90" font-size="9.63" text-anchor="start" font-weight="normal" fill="#2e2e2e" stroke="#2e2e2e" textLength="14.00" lengthAdjust="spacingAndGlyphs" >Ctrl</text>
<text x="339.70" y="256.90" font-size="9.63" text-anchor="start" font-weight="normal" fill="#2e2e2e" stroke="#2e2e2e" textLength="33.70" lengthAdjust="spacingAndGlyphs" >GFP/GFP</text>
<text transform="translate(259.40,199.80) rotate(-90)" x="0" y="0" font-size="9.63" text-anchor="middle" fill="#2e2e2e" stroke="#2e2e2e" textLength="51.30" lengthAdjust="spacingAndGlyphs">Frequency of</text>
<text transform="translate(270.70,199.80) rotate(-90)" x="0" y="0" font-size="9.63" text-anchor="middle" fill="#2e2e2e" stroke="#2e2e2e" textLength="51.50" lengthAdjust="spacingAndGlyphs">lung ILC2 (%)</text>
<line x1="426.80" y1="155.60" x2="426.80" y2="243.25" stroke="#000" stroke-width="1.5" />
<line x1="426.05" y1="242.50" x2="509.20" y2="242.50" stroke="#000" stroke-width="1.5" />
<line x1="423.30" y1="242.25" x2="426.30" y2="242.25" stroke="#3f6fae" stroke-width="1.1" />
<text x="420.75" y="246.23" font-size="10.49" text-anchor="end" font-weight="normal" fill="#2e2e2e" stroke="#2e2e2e" style="stroke-width:0.2px">0</text>
<line x1="423.30" y1="225.05" x2="426.30" y2="225.05" stroke="#3f6fae" stroke-width="1.1" />
<text x="420.75" y="229.03" font-size="10.49" text-anchor="end" font-weight="normal" fill="#2e2e2e" stroke="#2e2e2e" style="stroke-width:0.2px">1</text>
<line x1="423.30" y1="207.85" x2="426.30" y2="207.85" stroke="#3f6fae" stroke-width="1.1" />
<text x="420.75" y="211.83" font-size="10.49" text-anchor="end" font-weight="normal" fill="#2e2e2e" stroke="#2e2e2e" style="stroke-width:0.2px">2</text>
<line x1="423.30" y1="190.65" x2="426.30" y2="190.65" stroke="#3f6fae" stroke-width="1.1" />
<text x="420.75" y="194.63" font-size="10.49" text-anchor="end" font-weight="normal" fill="#2e2e2e" stroke="#2e2e2e" style="stroke-width:0.2px">3</text>
<line x1="423.30" y1="173.45" x2="426.30" y2="173.45" stroke="#3f6fae" stroke-width="1.1" />
<text x="420.75" y="177.43" font-size="10.49" text-anchor="end" font-weight="normal" fill="#2e2e2e" stroke="#2e2e2e" style="stroke-width:0.2px">4</text>
<line x1="423.30" y1="156.25" x2="426.30" y2="156.25" stroke="#3f6fae" stroke-width="1.1" />
<text x="420.75" y="160.23" font-size="10.49" text-anchor="end" font-weight="normal" fill="#2e2e2e" stroke="#2e2e2e" style="stroke-width:0.2px">5</text>
<line x1="447.00" y1="242.50" x2="447.00" y2="245.50" stroke="#000" stroke-width="1.1" />
<line x1="487.40" y1="242.50" x2="487.40" y2="245.50" stroke="#000" stroke-width="1.1" />
<line x1="447.00" y1="186.70" x2="447.00" y2="224.50" stroke="#000" stroke-width="1.6" />
<line x1="433.10" y1="205.80" x2="460.90" y2="205.80" stroke="#000" stroke-width="1.4" />
<line x1="440.00" y1="186.70" x2="454.00" y2="186.70" stroke="#000" stroke-width="1.8" />
<line x1="440.00" y1="224.50" x2="454.00" y2="224.50" stroke="#000" stroke-width="1.8" />
<rect x="443.30" y="170.70" width="2.4" height="2.4" fill="#000"/>
<rect x="448.30" y="171.90" width="2.4" height="2.4" fill="#000"/>
<rect x="443.90" y="189.00" width="2.4" height="2.4" fill="#000"/>
<rect x="443.70" y="210.40" width="2.4" height="2.4" fill="#000"/>
<rect x="448.70" y="210.05" width="2.4" height="2.4" fill="#000"/>
<rect x="441.20" y="215.50" width="2.4" height="2.4" fill="#000"/>
<rect x="450.20" y="214.40" width="2.4" height="2.4" fill="#000"/>
<rect x="445.80" y="219.10" width="2.4" height="2.4" fill="#000"/>
<rect x="441.20" y="221.00" width="2.4" height="2.4" fill="#000"/>
<rect x="450.20" y="221.30" width="2.4" height="2.4" fill="#000"/>
<rect x="445.80" y="226.50" width="2.4" height="2.4" fill="#000"/>
<line x1="487.40" y1="202.80" x2="487.40" y2="234.70" stroke="#000" stroke-width="1.6" />
<line x1="474.10" y1="218.50" x2="500.70" y2="218.50" stroke="#000" stroke-width="1.4" />
<line x1="480.30" y1="202.80" x2="494.50" y2="202.80" stroke="#000" stroke-width="1.8" />
<line x1="480.30" y1="234.70" x2="494.50" y2="234.70" stroke="#000" stroke-width="1.8" />
<rect x="486.20" y="175.70" width="2.4" height="2.4" fill="#000"/>
<rect x="483.80" y="211.30" width="2.4" height="2.4" fill="#000"/>
<rect x="488.50" y="211.90" width="2.4" height="2.4" fill="#000"/>
<rect x="479.10" y="216.60" width="2.4" height="2.4" fill="#000"/>
<rect x="493.20" y="216.60" width="2.4" height="2.4" fill="#000"/>
<rect x="483.80" y="219.80" width="2.4" height="2.4" fill="#000"/>
<rect x="486.20" y="225.40" width="2.4" height="2.4" fill="#000"/>
<rect x="481.50" y="230.05" width="2.4" height="2.4" fill="#000"/>
<rect x="490.90" y="231.60" width="2.4" height="2.4" fill="#000"/>
<rect x="486.20" y="234.30" width="2.4" height="2.4" fill="#000"/>
<line x1="450.75" y1="159.40" x2="487.00" y2="159.40" stroke="#505050" stroke-width="1.0" />
<ellipse cx="461.75" cy="152.90" rx="1.5" ry="1.75" fill="#1a1a1a"/>
<ellipse cx="467.40" cy="152.90" rx="1.5" ry="1.75" fill="#1a1a1a"/>
<ellipse cx="473.00" cy="152.90" rx="1.5" ry="1.75" fill="#1a1a1a"/>
<ellipse cx="479.00" cy="152.90" rx="1.5" ry="1.75" fill="#1a1a1a"/>
<text x="440.00" y="256.90" font-size="9.63" text-anchor="start" font-weight="normal" fill="#2e2e2e" stroke="#2e2e2e" textLength="13.50" lengthAdjust="spacingAndGlyphs" >Ctrl</text>
<text x="470.00" y="256.90" font-size="9.63" text-anchor="start" font-weight="normal" fill="#2e2e2e" stroke="#2e2e2e" textLength="34.10" lengthAdjust="spacingAndGlyphs" >GFP/GFP</text>
<text transform="translate(394.00,199.60) rotate(-90)" x="0" y="0" font-size="9.63" text-anchor="middle" fill="#2e2e2e" stroke="#2e2e2e" textLength="78.50" lengthAdjust="spacingAndGlyphs">Absolute number of</text>
<text transform="translate(406.00,199.10) rotate(-90)" x="0" y="0" font-size="9.63" text-anchor="middle" fill="#2e2e2e" stroke="#2e2e2e" textLength="58.00" lengthAdjust="spacingAndGlyphs">lung ILC2 (10<tspan font-size="5" dy="-3">4</tspan><tspan dy="3">)</tspan></text>
<text x="110" y="132.6" font-size="8.4" fill="#2e2e2e" stroke="#2e2e2e" textLength="62.5" lengthAdjust="spacingAndGlyphs">ST2<tspan font-size="5" dy="-3">-</tspan><tspan dy="3"> ILC2 subset</tspan></text>
<line x1="50.00" y1="139.00" x2="233.40" y2="139.00" stroke="#707070" stroke-width="1.1" stroke-dasharray="3,2"/>
<text x="367.2" y="132.8" font-size="8.4" fill="#2e2e2e" stroke="#2e2e2e" textLength="64" lengthAdjust="spacingAndGlyphs">ST2<tspan font-size="5" dy="-3">+</tspan><tspan dy="3"> ILC2 subset</tspan></text>
<line x1="307.80" y1="138.60" x2="490.50" y2="138.60" stroke="#707070" stroke-width="1.1" stroke-dasharray="3,2"/>
<line x1="41.80" y1="285.90" x2="41.80" y2="333.90" stroke="#888" stroke-width="0.8" />
<line x1="122.90" y1="285.90" x2="122.90" y2="333.90" stroke="#888" stroke-width="0.8" />
<line x1="41.80" y1="333.90" x2="122.90" y2="333.90" stroke="#aaa" stroke-width="0.8" />
<line x1="44.80" y1="333.90" x2="44.80" y2="335.10" stroke="#777" stroke-width="0.4" />
<line x1="46.73" y1="333.90" x2="46.73" y2="335.10" stroke="#777" stroke-width="0.4" />
<line x1="48.65" y1="333.90" x2="48.65" y2="335.10" stroke="#777" stroke-width="0.4" />
<line x1="50.58" y1="333.90" x2="50.58" y2="335.10" stroke="#777" stroke-width="0.4" />
<line x1="52.50" y1="333.90" x2="52.50" y2="335.10" stroke="#777" stroke-width="0.4" />
<line x1="54.43" y1="333.90" x2="54.43" y2="335.10" stroke="#777" stroke-width="0.4" />
<line x1="56.35" y1="333.90" x2="56.35" y2="335.10" stroke="#777" stroke-width="0.4" />
<line x1="58.28" y1="333.90" x2="58.28" y2="335.10" stroke="#777" stroke-width="0.4" />
<line x1="60.21" y1="333.90" x2="60.21" y2="335.10" stroke="#777" stroke-width="0.4" />
<line x1="62.13" y1="333.90" x2="62.13" y2="335.10" stroke="#777" stroke-width="0.4" />
<line x1="64.06" y1="333.90" x2="64.06" y2="335.10" stroke="#777" stroke-width="0.4" />
<line x1="65.98" y1="333.90" x2="65.98" y2="335.10" stroke="#777" stroke-width="0.4" />
<line x1="67.91" y1="333.90" x2="67.91" y2="335.10" stroke="#777" stroke-width="0.4" />
<line x1="69.83" y1="333.90" x2="69.83" y2="335.10" stroke="#777" stroke-width="0.4" />
<line x1="71.76" y1="333.90" x2="71.76" y2="335.10" stroke="#777" stroke-width="0.4" />
<line x1="73.68" y1="333.90" x2="73.68" y2="335.10" stroke="#777" stroke-width="0.4" />
<line x1="75.61" y1="333.90" x2="75.61" y2="335.10" stroke="#777" stroke-width="0.4" />
<line x1="77.54" y1="333.90" x2="77.54" y2="335.10" stroke="#777" stroke-width="0.4" />
<line x1="79.46" y1="333.90" x2="79.46" y2="335.10" stroke="#777" stroke-width="0.4" />
<line x1="81.39" y1="333.90" x2="81.39" y2="335.10" stroke="#777" stroke-width="0.4" />
<line x1="83.31" y1="333.90" x2="83.31" y2="335.10" stroke="#777" stroke-width="0.4" />
<line x1="85.24" y1="333.90" x2="85.24" y2="335.10" stroke="#777" stroke-width="0.4" />
<line x1="87.16" y1="333.90" x2="87.16" y2="335.10" stroke="#777" stroke-width="0.4" />
<line x1="89.09" y1="333.90" x2="89.09" y2="335.10" stroke="#777" stroke-width="0.4" />
<line x1="91.02" y1="333.90" x2="91.02" y2="335.10" stroke="#777" stroke-width="0.4" />
<line x1="92.94" y1="333.90" x2="92.94" y2="335.10" stroke="#777" stroke-width="0.4" />
<line x1="94.87" y1="333.90" x2="94.87" y2="335.10" stroke="#777" stroke-width="0.4" />
<line x1="96.79" y1="333.90" x2="96.79" y2="335.10" stroke="#777" stroke-width="0.4" />
<line x1="98.72" y1="333.90" x2="98.72" y2="335.10" stroke="#777" stroke-width="0.4" />
<line x1="100.64" y1="333.90" x2="100.64" y2="335.10" stroke="#777" stroke-width="0.4" />
<line x1="102.57" y1="333.90" x2="102.57" y2="335.10" stroke="#777" stroke-width="0.4" />
<line x1="104.49" y1="333.90" x2="104.49" y2="335.10" stroke="#777" stroke-width="0.4" />
<line x1="106.42" y1="333.90" x2="106.42" y2="335.10" stroke="#777" stroke-width="0.4" />
<line x1="108.35" y1="333.90" x2="108.35" y2="335.10" stroke="#777" stroke-width="0.4" />
<line x1="110.27" y1="333.90" x2="110.27" y2="335.10" stroke="#777" stroke-width="0.4" />
<line x1="112.20" y1="333.90" x2="112.20" y2="335.10" stroke="#777" stroke-width="0.4" />
<line x1="114.12" y1="333.90" x2="114.12" y2="335.10" stroke="#777" stroke-width="0.4" />
<line x1="116.05" y1="333.90" x2="116.05" y2="335.10" stroke="#777" stroke-width="0.4" />
<line x1="117.97" y1="333.90" x2="117.97" y2="335.10" stroke="#777" stroke-width="0.4" />
<line x1="119.90" y1="333.90" x2="119.90" y2="335.10" stroke="#777" stroke-width="0.4" />
<line x1="53.96" y1="333.90" x2="53.96" y2="336.10" stroke="#444" stroke-width="0.8" />
<line x1="75.86" y1="333.90" x2="75.86" y2="336.10" stroke="#444" stroke-width="0.8" />
<line x1="96.95" y1="333.90" x2="96.95" y2="336.10" stroke="#444" stroke-width="0.8" />
<line x1="118.03" y1="333.90" x2="118.03" y2="336.10" stroke="#444" stroke-width="0.8" />
<path d="M41.90,333.60 L54.00,333.20 L58.00,325.00 L61.00,308.00 L63.40,293.00 L65.00,290.50 L66.50,291.50 L68.10,289.10 L69.50,291.50 L71.00,290.80 L73.75,296.25 L76.00,300.00 L79.40,307.50 L81.00,313.00 L83.10,320.60 L86.00,326.00 L88.75,329.00 L92.00,330.50 L96.25,331.00 L101.00,331.80 L106.00,332.80 L112.00,333.40 L122.90,333.60" fill="#f9c8c8" stroke="#f0222a" stroke-width="1.4" stroke-linejoin="round"/>
<rect x="57.30" y="334.30" width="3.00" height="1.70" fill="#222" stroke="none" stroke-width="1" />
<line x1="39.90" y1="340.60" x2="39.90" y2="390.60" stroke="#888" stroke-width="0.8" />
<line x1="123.50" y1="340.60" x2="123.50" y2="390.60" stroke="#888" stroke-width="0.8" />
<line x1="39.90" y1="390.60" x2="123.50" y2="390.60" stroke="#aaa" stroke-width="0.8" />
<line x1="42.90" y1="390.60" x2="42.90" y2="391.80" stroke="#777" stroke-width="0.4" />
<line x1="44.89" y1="390.60" x2="44.89" y2="391.80" stroke="#777" stroke-width="0.4" />
<line x1="46.88" y1="390.60" x2="46.88" y2="391.80" stroke="#777" stroke-width="0.4" />
<line x1="48.87" y1="390.60" x2="48.87" y2="391.80" stroke="#777" stroke-width="0.4" />
<line x1="50.86" y1="390.60" x2="50.86" y2="391.80" stroke="#777" stroke-width="0.4" />
<line x1="52.85" y1="390.60" x2="52.85" y2="391.80" stroke="#777" stroke-width="0.4" />
<line x1="54.84" y1="390.60" x2="54.84" y2="391.80" stroke="#777" stroke-width="0.4" />
<line x1="56.83" y1="390.60" x2="56.83" y2="391.80" stroke="#777" stroke-width="0.4" />
<line x1="58.82" y1="390.60" x2="58.82" y2="391.80" stroke="#777" stroke-width="0.4" />
<line x1="60.81" y1="390.60" x2="60.81" y2="391.80" stroke="#777" stroke-width="0.4" />
<line x1="62.80" y1="390.60" x2="62.80" y2="391.80" stroke="#777" stroke-width="0.4" />
<line x1="64.79" y1="390.60" x2="64.79" y2="391.80" stroke="#777" stroke-width="0.4" />
<line x1="66.78" y1="390.60" x2="66.78" y2="391.80" stroke="#777" stroke-width="0.4" />
<line x1="68.77" y1="390.60" x2="68.77" y2="391.80" stroke="#777" stroke-width="0.4" />
<line x1="70.76" y1="390.60" x2="70.76" y2="391.80" stroke="#777" stroke-width="0.4" />
<line x1="72.75" y1="390.60" x2="72.75" y2="391.80" stroke="#777" stroke-width="0.4" />
<line x1="74.74" y1="390.60" x2="74.74" y2="391.80" stroke="#777" stroke-width="0.4" />
<line x1="76.73" y1="390.60" x2="76.73" y2="391.80" stroke="#777" stroke-width="0.4" />
<line x1="78.72" y1="390.60" x2="78.72" y2="391.80" stroke="#777" stroke-width="0.4" />
<line x1="80.71" y1="390.60" x2="80.71" y2="391.80" stroke="#777" stroke-width="0.4" />
<line x1="82.69" y1="390.60" x2="82.69" y2="391.80" stroke="#777" stroke-width="0.4" />
<line x1="84.68" y1="390.60" x2="84.68" y2="391.80" stroke="#777" stroke-width="0.4" />
<line x1="86.67" y1="390.60" x2="86.67" y2="391.80" stroke="#777" stroke-width="0.4" />
<line x1="88.66" y1="390.60" x2="88.66" y2="391.80" stroke="#777" stroke-width="0.4" />
<line x1="90.65" y1="390.60" x2="90.65" y2="391.80" stroke="#777" stroke-width="0.4" />
<line x1="92.64" y1="390.60" x2="92.64" y2="391.80" stroke="#777" stroke-width="0.4" />
<line x1="94.63" y1="390.60" x2="94.63" y2="391.80" stroke="#777" stroke-width="0.4" />
<line x1="96.62" y1="390.60" x2="96.62" y2="391.80" stroke="#777" stroke-width="0.4" />
<line x1="98.61" y1="390.60" x2="98.61" y2="391.80" stroke="#777" stroke-width="0.4" />
<line x1="100.60" y1="390.60" x2="100.60" y2="391.80" stroke="#777" stroke-width="0.4" />
<line x1="102.59" y1="390.60" x2="102.59" y2="391.80" stroke="#777" stroke-width="0.4" />
<line x1="104.58" y1="390.60" x2="104.58" y2="391.80" stroke="#777" stroke-width="0.4" />
<line x1="106.57" y1="390.60" x2="106.57" y2="391.80" stroke="#777" stroke-width="0.4" />
<line x1="108.56" y1="390.60" x2="108.56" y2="391.80" stroke="#777" stroke-width="0.4" />
<line x1="110.55" y1="390.60" x2="110.55" y2="391.80" stroke="#777" stroke-width="0.4" />
<line x1="112.54" y1="390.60" x2="112.54" y2="391.80" stroke="#777" stroke-width="0.4" />
<line x1="114.53" y1="390.60" x2="114.53" y2="391.80" stroke="#777" stroke-width="0.4" />
<line x1="116.52" y1="390.60" x2="116.52" y2="391.80" stroke="#777" stroke-width="0.4" />
<line x1="118.51" y1="390.60" x2="118.51" y2="391.80" stroke="#777" stroke-width="0.4" />
<line x1="120.50" y1="390.60" x2="120.50" y2="391.80" stroke="#777" stroke-width="0.4" />
<line x1="52.44" y1="390.60" x2="52.44" y2="392.80" stroke="#444" stroke-width="0.8" />
<line x1="75.01" y1="390.60" x2="75.01" y2="392.80" stroke="#444" stroke-width="0.8" />
<line x1="96.75" y1="390.60" x2="96.75" y2="392.80" stroke="#444" stroke-width="0.8" />
<line x1="118.48" y1="390.60" x2="118.48" y2="392.80" stroke="#444" stroke-width="0.8" />
<path d="M40.00,390.30 L50.50,389.60 L58.00,387.50 L63.70,384.40 L67.00,378.00 L70.40,367.20 L72.50,357.00 L74.40,348.60 L77.00,342.75 L78.50,344.50 L79.70,351.20 L81.00,362.00 L82.30,377.80 L85.00,387.10 L93.00,389.20 L123.50,390.20" fill="#f9c8c8" stroke="#f0222a" stroke-width="1.4" stroke-linejoin="round"/>
<rect x="56.00" y="391.00" width="3.00" height="1.70" fill="#222" stroke="none" stroke-width="1" />
<text x="19.6" y="316.6" font-size="9.0" fill="#2e2e2e" stroke="#2e2e2e" textLength="17.8" lengthAdjust="spacingAndGlyphs">ST2<tspan font-size="5" dy="-3">+</tspan></text>
<text x="19.6" y="375.2" font-size="9.0" fill="#2e2e2e" stroke="#2e2e2e" textLength="18.2" lengthAdjust="spacingAndGlyphs">ST2<tspan font-size="5" dy="-3">-</tspan></text>
<text x="36.60" y="404.80" font-size="11.56" text-anchor="start" font-weight="normal" fill="#2e2e2e" stroke="#2e2e2e" textLength="21.80" lengthAdjust="spacingAndGlyphs" >Areg</text>
<line x1="60.60" y1="401.20" x2="132.00" y2="401.20" stroke="#222" stroke-width="1.1" />
<polyline points="127.80,398.05 132.00,401.20 127.80,404.35" fill="none" stroke="#222" stroke-width="1.1"/>
<text x="162.2" y="283.6" font-size="8.6" fill="#2e2e2e" stroke="#2e2e2e" textLength="56.3" lengthAdjust="spacingAndGlyphs">Lung ST2<tspan font-size="5" dy="-3">+</tspan><tspan dy="3"> ILC2</tspan></text>
<rect x="160.25" y="291.50" width="98.25" height="98.00" fill="none" stroke="#888" stroke-width="0.8" />
<path d="M160.50,340.20 L168.80,340.00 L174.60,335.00 L179.50,324.00 L181.50,315.40 L184.40,308.60 L187.30,303.70 L190.00,300.50 L191.25,299.40 L192.20,298.80 L193.50,301.50 L195.20,304.60 L196.50,303.50 L198.00,306.60 L199.00,305.50 L200.00,308.60 L202.00,306.60 L204.00,309.50 L205.90,308.60 L207.50,310.50 L209.80,310.50 L212.70,313.40 L214.50,314.00 L216.60,316.40 L218.60,319.30 L222.50,325.20 L226.40,331.00 L230.30,336.90 L234.20,339.60 L238.10,340.20 L258.30,340.20" fill="#3ad9ef" stroke="#33d3ea" stroke-width="0.8" stroke-linejoin="round"/>
<line x1="160.50" y1="340.10" x2="258.30" y2="340.10" stroke="#7ee4f2" stroke-width="0.9" />
<path d="M160.50,389.00 L175.60,388.80 L179.50,386.50 L183.40,383.75 L187.00,381.50 L191.25,379.80 L194.50,377.50 L198.00,375.90 L200.00,374.50 L202.00,373.00 L204.00,370.50 L205.90,368.10 L208.80,364.20 L210.50,361.50 L211.75,358.40 L213.00,356.00 L214.70,352.50 L216.50,349.50 L218.60,347.60 L220.00,347.20 L221.50,348.60 L223.50,350.50 L225.00,354.50 L226.40,360.30 L229.30,368.10 L232.30,376.90 L235.20,383.75 L238.10,387.70 L242.00,388.80 L258.30,389.00" fill="#f8c592" stroke="#f0ae70" stroke-width="0.9" stroke-linejoin="round"/>
<line x1="163.00" y1="389.50" x2="163.00" y2="390.80" stroke="#777" stroke-width="0.4" />
<line x1="165.79" y1="389.50" x2="165.79" y2="390.80" stroke="#777" stroke-width="0.4" />
<line x1="168.58" y1="389.50" x2="168.58" y2="390.80" stroke="#777" stroke-width="0.4" />
<line x1="171.36" y1="389.50" x2="171.36" y2="390.80" stroke="#777" stroke-width="0.4" />
<line x1="174.15" y1="389.50" x2="174.15" y2="390.80" stroke="#777" stroke-width="0.4" />
<line x1="176.94" y1="389.50" x2="176.94" y2="390.80" stroke="#777" stroke-width="0.4" />
<line x1="179.73" y1="389.50" x2="179.73" y2="390.80" stroke="#777" stroke-width="0.4" />
<line x1="182.52" y1="389.50" x2="182.52" y2="390.80" stroke="#777" stroke-width="0.4" />
<line x1="185.30" y1="389.50" x2="185.30" y2="390.80" stroke="#777" stroke-width="0.4" />
<line x1="188.09" y1="389.50" x2="188.09" y2="390.80" stroke="#777" stroke-width="0.4" />
<line x1="190.88" y1="389.50" x2="190.88" y2="390.80" stroke="#777" stroke-width="0.4" />
<line x1="193.67" y1="389.50" x2="193.67" y2="390.80" stroke="#777" stroke-width="0.4" />
<line x1="196.45" y1="389.50" x2="196.45" y2="390.80" stroke="#777" stroke-width="0.4" />
<line x1="199.24" y1="389.50" x2="199.24" y2="390.80" stroke="#777" stroke-width="0.4" />
<line x1="202.03" y1="389.50" x2="202.03" y2="390.80" stroke="#777" stroke-width="0.4" />
<line x1="204.82" y1="389.50" x2="204.82" y2="390.80" stroke="#777" stroke-width="0.4" />
<line x1="207.61" y1="389.50" x2="207.61" y2="390.80" stroke="#777" stroke-width="0.4" />
<line x1="210.39" y1="389.50" x2="210.39" y2="390.80" stroke="#777" stroke-width="0.4" />
<line x1="213.18" y1="389.50" x2="213.18" y2="390.80" stroke="#777" stroke-width="0.4" />
<line x1="215.97" y1="389.50" x2="215.97" y2="390.80" stroke="#777" stroke-width="0.4" />
<line x1="218.76" y1="389.50" x2="218.76" y2="390.80" stroke="#777" stroke-width="0.4" />
<line x1="221.55" y1="389.50" x2="221.55" y2="390.80" stroke="#777" stroke-width="0.4" />
<line x1="224.33" y1="389.50" x2="224.33" y2="390.80" stroke="#777" stroke-width="0.4" />
<line x1="227.12" y1="389.50" x2="227.12" y2="390.80" stroke="#777" stroke-width="0.4" />
<line x1="229.91" y1="389.50" x2="229.91" y2="390.80" stroke="#777" stroke-width="0.4" />
<line x1="232.70" y1="389.50" x2="232.70" y2="390.80" stroke="#777" stroke-width="0.4" />
<line x1="235.48" y1="389.50" x2="235.48" y2="390.80" stroke="#777" stroke-width="0.4" />
<line x1="238.27" y1="389.50" x2="238.27" y2="390.80" stroke="#777" stroke-width="0.4" />
<line x1="241.06" y1="389.50" x2="241.06" y2="390.80" stroke="#777" stroke-width="0.4" />
<line x1="243.85" y1="389.50" x2="243.85" y2="390.80" stroke="#777" stroke-width="0.4" />
<line x1="246.64" y1="389.50" x2="246.64" y2="390.80" stroke="#777" stroke-width="0.4" />
<line x1="249.42" y1="389.50" x2="249.42" y2="390.80" stroke="#777" stroke-width="0.4" />
<line x1="252.21" y1="389.50" x2="252.21" y2="390.80" stroke="#777" stroke-width="0.4" />
<line x1="255.00" y1="389.50" x2="255.00" y2="390.80" stroke="#777" stroke-width="0.4" />
<line x1="172.01" y1="389.50" x2="172.01" y2="391.80" stroke="#444" stroke-width="0.8" />
<line x1="192.59" y1="389.50" x2="192.59" y2="391.80" stroke="#444" stroke-width="0.8" />
<line x1="213.17" y1="389.50" x2="213.17" y2="391.80" stroke="#444" stroke-width="0.8" />
<line x1="234.73" y1="389.50" x2="234.73" y2="391.80" stroke="#444" stroke-width="0.8" />
<rect x="180.50" y="389.90" width="5.00" height="1.80" fill="#222" stroke="none" stroke-width="1" />
<text x="236.00" y="304.80" font-size="4.92" text-anchor="start" font-weight="bold" fill="#333" stroke="#333" textLength="17.50" lengthAdjust="spacingAndGlyphs" >+/GFP</text>
<text x="234.75" y="352.80" font-size="4.92" text-anchor="start" font-weight="bold" fill="#333" stroke="#333" textLength="22.50" lengthAdjust="spacingAndGlyphs" >GFP/GFP</text>
<text x="163.00" y="403.80" font-size="11.98" text-anchor="start" font-weight="normal" fill="#2e2e2e" stroke="#2e2e2e" textLength="30.00" lengthAdjust="spacingAndGlyphs" >KLRG1</text>
<line x1="196.00" y1="400.50" x2="249.80" y2="400.50" stroke="#222" stroke-width="1.1" />
<polyline points="245.60,397.35 249.80,400.50 245.60,403.65" fill="none" stroke="#222" stroke-width="1.1"/>
<text x="306.90" y="304.30" font-size="9.42" text-anchor="start" font-weight="normal" fill="#2e2e2e" stroke="#2e2e2e" textLength="23.70" lengthAdjust="spacingAndGlyphs" >CXCR6</text>
<text x="330.90" y="300.70" font-size="5.89" text-anchor="start" font-weight="bold" fill="#2e2e2e" stroke="#2e2e2e" textLength="15.00" lengthAdjust="spacingAndGlyphs" >+/GFP</text>
<circle cx="328.2" cy="351.4" r="39.6" fill="#000" stroke="#222" stroke-width="0.8"/>
<path d="M328.2,351.4 L328.2,311.79999999999995 A39.6,39.6 0 0 1 367.78,350.16 Z" fill="#8a8a8a" stroke="#111" stroke-width="0.8"/>
<text x="307.25" y="332.10" font-size="9.42" text-anchor="start" font-weight="normal" fill="#f4f4f4" stroke="#f4f4f4" textLength="16.20" lengthAdjust="spacingAndGlyphs" >76%</text>
<text x="337.25" y="345.10" font-size="9.42" text-anchor="start" font-weight="normal" fill="#f4f4f4" stroke="#f4f4f4" textLength="16.80" lengthAdjust="spacingAndGlyphs" >24%</text>
<text x="388.00" y="304.20" font-size="9.42" text-anchor="start" font-weight="normal" fill="#2e2e2e" stroke="#2e2e2e" textLength="23.30" lengthAdjust="spacingAndGlyphs" >CXCR6</text>
<text x="411.60" y="300.60" font-size="5.89" text-anchor="start" font-weight="bold" fill="#2e2e2e" stroke="#2e2e2e" textLength="23.30" lengthAdjust="spacingAndGlyphs" >GFP/GFP</text>
<circle cx="412.1" cy="353.5" r="39.7" fill="#000" stroke="#222" stroke-width="0.8"/>
<path d="M412.1,353.5 L412.1,313.8 A39.7,39.7 0 1 1 381.51,378.81 Z" fill="#8a8a8a" stroke="#111" stroke-width="0.8"/>
<text x="392.00" y="332.10" font-size="9.42" text-anchor="start" font-weight="normal" fill="#f4f4f4" stroke="#f4f4f4" textLength="17.00" lengthAdjust="spacingAndGlyphs" >36%</text>
<text x="424.50" y="344.60" font-size="9.42" text-anchor="start" font-weight="normal" fill="#f4f4f4" stroke="#f4f4f4" textLength="17.00" lengthAdjust="spacingAndGlyphs" >64%</text>
<rect x="448.20" y="302.20" width="11.00" height="6.50" fill="#8a8a8a" stroke="#111" stroke-width="1.3" />
<rect x="448.20" y="313.80" width="11.00" height="6.50" fill="#000" stroke="#111" stroke-width="1.3" />
<text x="462.8" y="308.8" font-size="9.0" fill="#2e2e2e" stroke="#2e2e2e" textLength="27.4" lengthAdjust="spacingAndGlyphs">KLRG1<tspan font-size="5" dy="-3.2">+</tspan></text>
<text x="462.8" y="320.6" font-size="9.0" fill="#2e2e2e" stroke="#2e2e2e" textLength="26.5" lengthAdjust="spacingAndGlyphs">KLRG1<tspan font-size="5" dy="-3.2">-</tspan></text>
<line x1="61.00" y1="439.00" x2="61.00" y2="530.05" stroke="#000" stroke-width="1.5" />
<line x1="60.25" y1="529.30" x2="151.60" y2="529.30" stroke="#000" stroke-width="1.5" />
<line x1="57.50" y1="528.30" x2="60.50" y2="528.30" stroke="#3f6fae" stroke-width="1.1" />
<text x="54.40" y="532.45" font-size="10.91" text-anchor="end" font-weight="normal" fill="#2e2e2e" stroke="#2e2e2e" style="stroke-width:0.2px">0</text>
<line x1="57.50" y1="510.70" x2="60.50" y2="510.70" stroke="#3f6fae" stroke-width="1.1" />
<text x="54.40" y="514.85" font-size="10.91" text-anchor="end" font-weight="normal" fill="#2e2e2e" stroke="#2e2e2e" style="stroke-width:0.2px">5</text>
<line x1="57.50" y1="493.10" x2="60.50" y2="493.10" stroke="#3f6fae" stroke-width="1.1" />
<text x="54.40" y="497.25" font-size="10.91" text-anchor="end" font-weight="normal" fill="#2e2e2e" stroke="#2e2e2e" style="stroke-width:0.2px">10</text>
<line x1="57.50" y1="475.50" x2="60.50" y2="475.50" stroke="#3f6fae" stroke-width="1.1" />
<text x="54.40" y="479.65" font-size="10.91" text-anchor="end" font-weight="normal" fill="#2e2e2e" stroke="#2e2e2e" style="stroke-width:0.2px">15</text>
<line x1="57.50" y1="457.90" x2="60.50" y2="457.90" stroke="#3f6fae" stroke-width="1.1" />
<text x="54.40" y="462.05" font-size="10.91" text-anchor="end" font-weight="normal" fill="#2e2e2e" stroke="#2e2e2e" style="stroke-width:0.2px">20</text>
<line x1="57.50" y1="440.30" x2="60.50" y2="440.30" stroke="#3f6fae" stroke-width="1.1" />
<text x="54.40" y="444.45" font-size="10.91" text-anchor="end" font-weight="normal" fill="#2e2e2e" stroke="#2e2e2e" style="stroke-width:0.2px">25</text>
<line x1="83.75" y1="529.30" x2="83.75" y2="532.30" stroke="#000" stroke-width="1.1" />
<line x1="128.60" y1="529.30" x2="128.60" y2="532.30" stroke="#000" stroke-width="1.1" />
<line x1="83.75" y1="467.00" x2="83.75" y2="508.00" stroke="#5a5a5a" stroke-width="1.2" />
<line x1="68.40" y1="487.50" x2="99.10" y2="487.50" stroke="#5a5a5a" stroke-width="1.2" />
<line x1="75.75" y1="467.00" x2="91.75" y2="467.00" stroke="#5a5a5a" stroke-width="1.2" />
<line x1="75.75" y1="508.00" x2="91.75" y2="508.00" stroke="#5a5a5a" stroke-width="1.2" />
<circle cx="83.75" cy="456.90" r="1.7" fill="#000"/>
<circle cx="83.75" cy="474.50" r="1.7" fill="#000"/>
<circle cx="83.75" cy="480.50" r="1.7" fill="#000"/>
<circle cx="81.25" cy="498.00" r="1.7" fill="#000"/>
<circle cx="86.25" cy="503.00" r="1.7" fill="#000"/>
<circle cx="83.75" cy="511.25" r="1.7" fill="#000"/>
<circle cx="83.75" cy="456.90" r="1.7" fill="#000"/>
<circle cx="83.75" cy="474.50" r="1.7" fill="#000"/>
<circle cx="83.75" cy="480.50" r="1.7" fill="#000"/>
<circle cx="81.25" cy="498.00" r="1.7" fill="#000"/>
<circle cx="86.25" cy="503.00" r="1.7" fill="#000"/>
<circle cx="83.75" cy="511.25" r="1.7" fill="#000"/>
<line x1="128.60" y1="521.20" x2="128.60" y2="523.00" stroke="#5a5a5a" stroke-width="1.2" />
<line x1="113.80" y1="522.10" x2="143.40" y2="522.10" stroke="#5a5a5a" stroke-width="1.2" />
<line x1="123.60" y1="521.20" x2="133.60" y2="521.20" stroke="#5a5a5a" stroke-width="1.2" />
<line x1="123.60" y1="523.00" x2="133.60" y2="523.00" stroke="#5a5a5a" stroke-width="1.2" />
<circle cx="120.80" cy="522.00" r="1.7" fill="#000"/>
<circle cx="125.60" cy="522.50" r="1.7" fill="#000"/>
<circle cx="131.50" cy="522.00" r="1.7" fill="#000"/>
<circle cx="137.40" cy="521.80" r="1.7" fill="#000"/>
<circle cx="120.80" cy="522.00" r="1.7" fill="#000"/>
<circle cx="125.60" cy="522.50" r="1.7" fill="#000"/>
<circle cx="131.50" cy="522.00" r="1.7" fill="#000"/>
<circle cx="137.40" cy="521.80" r="1.7" fill="#000"/>
<line x1="85.30" y1="446.40" x2="123.75" y2="446.40" stroke="#505050" stroke-width="1.0" />
<ellipse cx="102.90" cy="440.00" rx="1.5" ry="1.75" fill="#1a1a1a"/>
<ellipse cx="108.75" cy="440.00" rx="1.5" ry="1.75" fill="#1a1a1a"/>
<text x="75.9" y="430.4" font-size="8.2" fill="#2e2e2e" stroke="#2e2e2e" textLength="55.1" lengthAdjust="spacingAndGlyphs">KLRG1<tspan font-size="5" dy="-3">-</tspan><tspan dy="3"> subset</tspan></text>
<text x="29.50" y="545.60" font-size="9.63" text-anchor="start" font-weight="normal" fill="#2e2e2e" stroke="#2e2e2e" textLength="24.30" lengthAdjust="spacingAndGlyphs" >CXCR6</text>
<text x="75.00" y="545.60" font-size="9.63" text-anchor="start" font-weight="normal" fill="#2e2e2e" stroke="#2e2e2e" textLength="23.80" lengthAdjust="spacingAndGlyphs" >+/GFP</text>
<text x="113.70" y="545.60" font-size="9.63" text-anchor="start" font-weight="normal" fill="#2e2e2e" stroke="#2e2e2e" textLength="33.10" lengthAdjust="spacingAndGlyphs" >GFP/GFP</text>
<text transform="translate(24.80,485.00) rotate(-90)" x="0" y="0" font-size="9.63" text-anchor="middle" fill="#2e2e2e" stroke="#2e2e2e" textLength="78.50" lengthAdjust="spacingAndGlyphs">Absolute number of</text>
<text transform="translate(35.80,484.60) rotate(-90)" x="0" y="0" font-size="9.63" text-anchor="middle" fill="#2e2e2e" stroke="#2e2e2e" textLength="62.00" lengthAdjust="spacingAndGlyphs">lung ILC2 (x10<tspan font-size="5" dy="-3">3</tspan><tspan dy="3">)</tspan></text>
<line x1="213.50" y1="439.40" x2="213.50" y2="530.25" stroke="#000" stroke-width="1.5" />
<line x1="212.75" y1="529.50" x2="303.75" y2="529.50" stroke="#000" stroke-width="1.5" />
<line x1="210.00" y1="528.30" x2="213.00" y2="528.30" stroke="#3f6fae" stroke-width="1.1" />
<text x="206.25" y="532.45" font-size="10.91" text-anchor="end" font-weight="normal" fill="#2e2e2e" stroke="#2e2e2e" style="stroke-width:0.2px">0</text>
<line x1="210.00" y1="510.70" x2="213.00" y2="510.70" stroke="#3f6fae" stroke-width="1.1" />
<text x="206.25" y="514.85" font-size="10.91" text-anchor="end" font-weight="normal" fill="#2e2e2e" stroke="#2e2e2e" style="stroke-width:0.2px">5</text>
<line x1="210.00" y1="493.10" x2="213.00" y2="493.10" stroke="#3f6fae" stroke-width="1.1" />
<text x="206.25" y="497.25" font-size="10.91" text-anchor="end" font-weight="normal" fill="#2e2e2e" stroke="#2e2e2e" style="stroke-width:0.2px">10</text>
<line x1="210.00" y1="475.50" x2="213.00" y2="475.50" stroke="#3f6fae" stroke-width="1.1" />
<text x="206.25" y="479.65" font-size="10.91" text-anchor="end" font-weight="normal" fill="#2e2e2e" stroke="#2e2e2e" style="stroke-width:0.2px">15</text>
<line x1="210.00" y1="457.90" x2="213.00" y2="457.90" stroke="#3f6fae" stroke-width="1.1" />
<text x="206.25" y="462.05" font-size="10.91" text-anchor="end" font-weight="normal" fill="#2e2e2e" stroke="#2e2e2e" style="stroke-width:0.2px">20</text>
<line x1="210.00" y1="440.30" x2="213.00" y2="440.30" stroke="#3f6fae" stroke-width="1.1" />
<text x="206.25" y="444.45" font-size="10.91" text-anchor="end" font-weight="normal" fill="#2e2e2e" stroke="#2e2e2e" style="stroke-width:0.2px">25</text>
<line x1="236.25" y1="529.50" x2="236.25" y2="532.50" stroke="#000" stroke-width="1.1" />
<line x1="280.50" y1="529.50" x2="280.50" y2="532.50" stroke="#000" stroke-width="1.1" />
<line x1="236.25" y1="466.60" x2="236.25" y2="506.75" stroke="#5a5a5a" stroke-width="1.2" />
<line x1="221.25" y1="487.00" x2="251.25" y2="487.00" stroke="#5a5a5a" stroke-width="1.2" />
<line x1="228.50" y1="466.60" x2="244.00" y2="466.60" stroke="#5a5a5a" stroke-width="1.2" />
<line x1="228.50" y1="506.75" x2="244.00" y2="506.75" stroke="#5a5a5a" stroke-width="1.2" />
<circle cx="236.25" cy="456.90" r="1.7" fill="#000"/>
<circle cx="236.25" cy="469.20" r="1.7" fill="#000"/>
<circle cx="236.25" cy="488.75" r="1.7" fill="#000"/>
<circle cx="233.75" cy="497.00" r="1.7" fill="#000"/>
<circle cx="238.75" cy="501.25" r="1.7" fill="#000"/>
<circle cx="236.25" cy="507.50" r="1.7" fill="#000"/>
<circle cx="236.25" cy="456.90" r="1.7" fill="#000"/>
<circle cx="236.25" cy="469.20" r="1.7" fill="#000"/>
<circle cx="236.25" cy="488.75" r="1.7" fill="#000"/>
<circle cx="233.75" cy="497.00" r="1.7" fill="#000"/>
<circle cx="238.75" cy="501.25" r="1.7" fill="#000"/>
<circle cx="236.25" cy="507.50" r="1.7" fill="#000"/>
<line x1="280.50" y1="476.25" x2="280.50" y2="492.00" stroke="#5a5a5a" stroke-width="1.2" />
<line x1="265.50" y1="484.25" x2="295.50" y2="484.25" stroke="#5a5a5a" stroke-width="1.2" />
<line x1="273.35" y1="476.25" x2="287.65" y2="476.25" stroke="#5a5a5a" stroke-width="1.2" />
<line x1="273.35" y1="492.00" x2="287.65" y2="492.00" stroke="#5a5a5a" stroke-width="1.2" />
<circle cx="281.25" cy="473.00" r="1.7" fill="#000"/>
<circle cx="280.00" cy="484.50" r="1.7" fill="#000"/>
<circle cx="283.75" cy="486.25" r="1.7" fill="#000"/>
<circle cx="278.00" cy="492.00" r="1.7" fill="#000"/>
<circle cx="281.25" cy="473.00" r="1.7" fill="#000"/>
<circle cx="280.00" cy="484.50" r="1.7" fill="#000"/>
<circle cx="283.75" cy="486.25" r="1.7" fill="#000"/>
<circle cx="278.00" cy="492.00" r="1.7" fill="#000"/>
<line x1="239.60" y1="446.20" x2="277.90" y2="446.20" stroke="#333" stroke-width="1.0" />
<text x="256.00" y="441.90" font-size="9.20" text-anchor="start" font-weight="normal" fill="#2e2e2e" stroke="#2e2e2e" textLength="8.40" lengthAdjust="spacingAndGlyphs" >ns</text>
<text x="227.3" y="427.9" font-size="8.2" fill="#2e2e2e" stroke="#2e2e2e" textLength="56.1" lengthAdjust="spacingAndGlyphs">KLRG1<tspan font-size="5" dy="-3">+</tspan><tspan dy="3"> subset</tspan></text>
<text x="226.25" y="545.60" font-size="9.63" text-anchor="start" font-weight="normal" fill="#2e2e2e" stroke="#2e2e2e" textLength="23.80" lengthAdjust="spacingAndGlyphs" >+/GFP</text>
<text x="264.50" y="545.60" font-size="9.63" text-anchor="start" font-weight="normal" fill="#2e2e2e" stroke="#2e2e2e" textLength="34.20" lengthAdjust="spacingAndGlyphs" >GFP/GFP</text>
<text transform="translate(177.50,485.00) rotate(-90)" x="0" y="0" font-size="9.63" text-anchor="middle" fill="#2e2e2e" stroke="#2e2e2e" textLength="80.00" lengthAdjust="spacingAndGlyphs">Absolute number of</text>
<text transform="translate(188.60,485.40) rotate(-90)" x="0" y="0" font-size="9.63" text-anchor="middle" fill="#2e2e2e" stroke="#2e2e2e" textLength="61.50" lengthAdjust="spacingAndGlyphs">lung ILC2 (x10<tspan font-size="5" dy="-3">3</tspan><tspan dy="3">)</tspan></text>
</svg></body></html>
